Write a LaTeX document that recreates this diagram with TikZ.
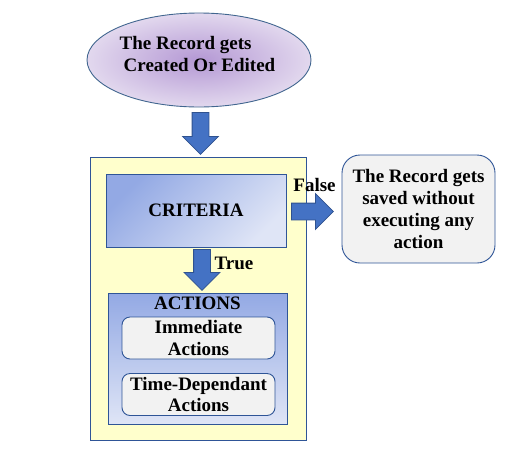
\documentclass[tikz,border=0pt]{standalone}
\usepackage{fontspec}
\setmainfont{Liberation Serif}[BoldFont={Liberation Serif Bold}]
\usetikzlibrary{positioning, shapes.geometric, shapes.arrows}

\definecolor{arrowfill}{HTML}{4472C4}
\definecolor{arrowline}{HTML}{2F528F}
\definecolor{boxline}{HTML}{2F5597}
\definecolor{ellline}{HTML}{41668F}
\definecolor{ellin}{HTML}{B498D4}
\definecolor{ellout}{HTML}{E2D8EE}
\definecolor{paleyellow}{HTML}{FFFFCC}
\definecolor{blueA}{HTML}{93A9E4}
\definecolor{blueB}{HTML}{DFE5F6}
\definecolor{softgray}{HTML}{F2F2F2}

\begin{document}
\begin{tikzpicture}[x=1pt, y=-1pt,
    font=\rmfamily\bfseries\fontsize{19}{21.7}\selectfont,
    blockarrow/.style={single arrow, draw=arrowline, fill=arrowfill, line width=0.8pt,
        minimum width=35pt, single arrow head extend=9.5pt, inner xsep=0pt, inner ysep=8pt,
        anchor=tail},
    actionbox/.style={draw=boxline, fill=softgray, rounded corners=8pt, line width=0.9pt,
        minimum width=153pt, minimum height=42pt, align=center, inner sep=0pt}]
        \useasboundingbox (0,0) rectangle (510,466);
        % start
        \node (rec) [ellipse, draw=ellline, line width=0.9pt, inner color=ellin, outer color=ellout,
                     minimum width=224pt, minimum height=94pt] at (199,60) {};
        \node (rectext) [align=left, inner sep=0pt] at (197.5,54)
              {The Record gets\\\hspace{4pt}Created Or Edited};
        % rule
        \node (rule) [draw=boxline, fill=paleyellow, line width=0.9pt,
                      minimum width=216pt, minimum height=283pt] at (198,298.5) {};
        \node (crit) [draw=boxline, line width=0.9pt, top color=blueA, bottom color=blueB,
                      shading angle=45, minimum width=180pt, minimum height=73pt]
              at (196,210.5) {CRITERIA};
        \node (act) [draw=boxline, line width=0.9pt, top color=blueA, bottom color=blueB,
                     minimum width=179pt, minimum height=131pt] at (197.5,358.5) {};
        \node (acttitle) [below=4pt of act.north, inner sep=0pt] {ACTIONS};
        \foreach \t [count=\i] in {{Immediate\\Actions}, {Time-Dependant\\Actions}}
            \node (ab\i) [actionbox] at (198.5,338+56.5*\i-56.5) {\t};
        % end
        \node (saved) [draw=boxline, fill=softgray, rounded corners=18pt, line width=0.9pt,
                       minimum width=153pt, minimum height=108pt, align=center, inner sep=0pt]
              at (418.5,209) {The Record gets\\saved without\\executing any\\action};
        % arrows
        \node (a1) [blockarrow, rotate=-90, minimum height=42pt] at (200.5,112) {};
        \node (a2) [blockarrow, rotate=-90, minimum height=41pt] at (202,249) {};
        \node (a3) [blockarrow, minimum height=42pt] at (291,211.5) {};
        \node (true) [inner sep=0pt] at (234,263) {True};
        \node (false) [inner sep=0pt] at (314.5,185) {False};
\end{tikzpicture}
\end{document}
